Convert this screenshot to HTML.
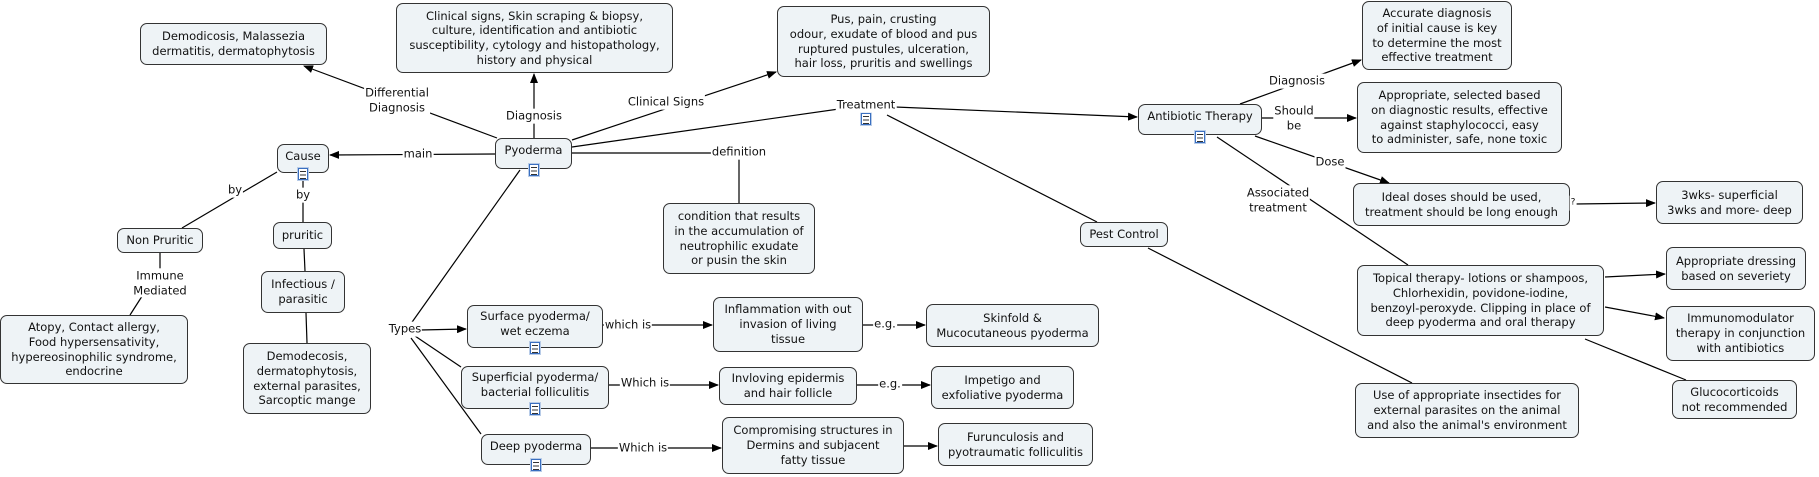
<!DOCTYPE html>
<html><head><meta charset="utf-8"><style>
body{margin:0;width:1819px;height:477px;background:#fff;position:relative;overflow:hidden;font-family:"DejaVu Sans","Liberation Sans",sans-serif;font-size:11.5px;color:#111}
.b{position:absolute;box-sizing:border-box;border:1px solid #333;border-radius:7px;background:#eef3f6;display:flex;align-items:center;justify-content:center;text-align:center;line-height:14.7px;padding:0 2px}
.l{position:absolute;background:#fff;text-align:center;line-height:14.7px;transform:translate(-50%,-50%);white-space:nowrap;padding:0 1px}
.i{position:absolute;width:10px;height:12px;box-sizing:border-box;border:1px solid #3a6fc0;background:#fff;box-shadow:0 0 0 1px #b8cce8}
.i:after{content:"";position:absolute;left:1px;top:2px;width:6px;height:6px;border-top:1px solid #333;border-bottom:1px solid #333;background:linear-gradient(#fff 40%,#333 40%,#333 55%,#fff 55%)}
svg{position:absolute;left:0;top:0}
</style></head><body>
<svg width="1819" height="477">
<defs><marker id="a" markerWidth="10" markerHeight="8" refX="9" refY="4" orient="auto" markerUnits="userSpaceOnUse"><path d="M0,0L10,4L0,8z" fill="#000"/></marker></defs>
<g stroke="#000" stroke-width="1.2" fill="none">
<line x1="497" y1="138" x2="304" y2="66" marker-end="url(#a)"/>
<line x1="534" y1="138" x2="534" y2="74" marker-end="url(#a)"/>
<line x1="572" y1="140" x2="776" y2="72" marker-end="url(#a)"/>
<line x1="572" y1="147" x2="860" y2="106"/>
<line x1="870" y1="106" x2="1137" y2="117" marker-end="url(#a)"/>
<line x1="887" y1="115" x2="1097" y2="222"/>
<line x1="495" y1="154" x2="330" y2="155" marker-end="url(#a)"/>
<line x1="572" y1="153" x2="739" y2="153"/>
<line x1="739" y1="153" x2="739" y2="203"/>
<line x1="277" y1="172" x2="182" y2="228"/>
<line x1="303" y1="174" x2="303" y2="222"/>
<line x1="304" y1="249" x2="305" y2="271"/>
<line x1="306" y1="313" x2="307" y2="343"/>
<line x1="160" y1="253" x2="160" y2="280"/>
<line x1="146" y1="290" x2="130" y2="315"/>
<line x1="520" y1="170" x2="410" y2="325"/>
<line x1="420" y1="330" x2="466" y2="329" marker-end="url(#a)"/>
<line x1="415" y1="336" x2="461" y2="367"/>
<line x1="411" y1="338" x2="481" y2="434"/>
<line x1="603" y1="325" x2="712" y2="325" marker-end="url(#a)"/>
<line x1="609" y1="385" x2="718" y2="385" marker-end="url(#a)"/>
<line x1="591" y1="448" x2="721" y2="448" marker-end="url(#a)"/>
<line x1="863" y1="325" x2="925" y2="325" marker-end="url(#a)"/>
<line x1="857" y1="385" x2="930" y2="385" marker-end="url(#a)"/>
<line x1="904" y1="446" x2="937" y2="446" marker-end="url(#a)"/>
<line x1="1240" y1="104" x2="1361" y2="60" marker-end="url(#a)"/>
<line x1="1262" y1="118" x2="1356" y2="118" marker-end="url(#a)"/>
<line x1="1255" y1="136" x2="1389" y2="183" marker-end="url(#a)"/>
<line x1="1217" y1="137" x2="1408" y2="265"/>
<line x1="1575" y1="204" x2="1655" y2="203" marker-end="url(#a)"/>
<line x1="1605" y1="277" x2="1665" y2="274" marker-end="url(#a)"/>
<line x1="1605" y1="307" x2="1664" y2="318" marker-end="url(#a)"/>
<line x1="1585" y1="339" x2="1686" y2="380"/>
<line x1="1148" y1="248" x2="1412" y2="383"/>
</g></svg>

<div class="b" style="left:140px;top:23px;width:187px;height:42px">Demodicosis, Malassezia<br>dermatitis, dermatophytosis</div>
<div class="b" style="left:396px;top:3px;width:277px;height:70px">Clinical signs, Skin scraping &amp; biopsy,<br>culture, identification and antibiotic<br>susceptibility, cytology and histopathology,<br>history and physical</div>
<div class="b" style="left:777px;top:6px;width:213px;height:71px">Pus, pain, crusting<br>odour, exudate of blood and pus<br>ruptured pustules, ulceration,<br>hair loss, pruritis and swellings</div>
<div class="b" style="left:495px;top:138px;width:77px;height:31px;align-items:flex-start;padding-top:4px">Pyoderma</div>
<div class="b" style="left:277px;top:144px;width:52px;height:29px;align-items:flex-start;padding-top:4px">Cause</div>
<div class="b" style="left:117px;top:228px;width:86px;height:25px">Non Pruritic</div>
<div class="b" style="left:273px;top:222px;width:59px;height:27px">pruritic</div>
<div class="b" style="left:261px;top:271px;width:84px;height:42px">Infectious /<br>parasitic</div>
<div class="b" style="left:0px;top:315px;width:188px;height:69px">Atopy, Contact allergy,<br>Food hypersensativity,<br>hypereosinophilic syndrome,<br>endocrine</div>
<div class="b" style="left:243px;top:343px;width:128px;height:71px">Demodecosis,<br>dermatophytosis,<br>external parasites,<br>Sarcoptic mange</div>
<div class="b" style="left:663px;top:203px;width:152px;height:71px">condition that results<br>in the accumulation of<br>neutrophilic exudate<br>or pusin the skin</div>
<div class="b" style="left:467px;top:305px;width:136px;height:43px;align-items:flex-start;padding-top:3px">Surface pyoderma/<br>wet eczema</div>
<div class="b" style="left:461px;top:366px;width:148px;height:43px;align-items:flex-start;padding-top:3px">Superficial pyoderma/<br>bacterial folliculitis</div>
<div class="b" style="left:481px;top:434px;width:110px;height:31px;align-items:flex-start;padding-top:4px">Deep pyoderma</div>
<div class="b" style="left:713px;top:297px;width:150px;height:55px">Inflammation with out<br>invasion of living<br>tissue</div>
<div class="b" style="left:719px;top:367px;width:138px;height:38px">Invloving epidermis<br>and hair follicle</div>
<div class="b" style="left:722px;top:417px;width:182px;height:57px">Compromising structures in<br>Dermins and subjacent<br>fatty tissue</div>
<div class="b" style="left:926px;top:304px;width:173px;height:43px">Skinfold &amp;<br>Mucocutaneous pyoderma</div>
<div class="b" style="left:931px;top:366px;width:143px;height:43px">Impetigo and<br>exfoliative pyoderma</div>
<div class="b" style="left:938px;top:423px;width:155px;height:43px">Furunculosis and<br>pyotraumatic folliculitis</div>
<div class="b" style="left:1138px;top:104px;width:124px;height:31px;align-items:flex-start;padding-top:4px">Antibiotic Therapy</div>
<div class="b" style="left:1362px;top:1px;width:150px;height:69px">Accurate diagnosis<br>of initial cause is key<br>to determine the most<br>effective treatment</div>
<div class="b" style="left:1357px;top:82px;width:205px;height:71px">Appropriate, selected based<br>on diagnostic results, effective<br>against staphylococci, easy<br>to administer, safe, none toxic</div>
<div class="b" style="left:1353px;top:183px;width:217px;height:43px">Ideal doses should be used,<br>treatment should be long enough</div>
<div class="b" style="left:1656px;top:181px;width:147px;height:43px">3wks- superficial<br>3wks and more- deep</div>
<div class="b" style="left:1080px;top:222px;width:88px;height:25px">Pest Control</div>
<div class="b" style="left:1357px;top:265px;width:247px;height:71px">Topical therapy- lotions or shampoos,<br>Chlorhexidin, povidone-iodine,<br>benzoyl-peroxyde. Clipping in place of<br>deep pyoderma and oral therapy</div>
<div class="b" style="left:1666px;top:247px;width:140px;height:43px">Appropriate dressing<br>based on severiety</div>
<div class="b" style="left:1666px;top:306px;width:149px;height:55px">Immunomodulator<br>therapy in conjunction<br>with antibiotics</div>
<div class="b" style="left:1672px;top:380px;width:125px;height:39px">Glucocorticoids<br>not recommended</div>
<div class="b" style="left:1355px;top:383px;width:224px;height:55px">Use of appropriate insectides for<br>external parasites on the animal<br>and also the animal's environment</div>

<div class="i" style="left:529px;top:164px"></div>
<div class="i" style="left:298px;top:168px"></div>
<div class="i" style="left:530px;top:342px"></div>
<div class="i" style="left:530px;top:403px"></div>
<div class="i" style="left:531px;top:459px"></div>
<div class="i" style="left:1195px;top:131px"></div>
<div class="i" style="left:861px;top:113px"></div>

<div class="l" style="left:397px;top:100px">Differential<br>Diagnosis</div>
<div class="l" style="left:534px;top:116px">Diagnosis</div>
<div class="l" style="left:666px;top:102px">Clinical Signs</div>
<div class="l" style="left:866px;top:105px">Treatment</div>
<div class="l" style="left:418px;top:154px">main</div>
<div class="l" style="left:739px;top:152px">definition</div>
<div class="l" style="left:235px;top:190px">by</div>
<div class="l" style="left:303px;top:195px">by</div>
<div class="l" style="left:160px;top:283px">Immune<br>Mediated</div>
<div class="l" style="left:405px;top:329px">Types</div>
<div class="l" style="left:628px;top:325px">which is</div>
<div class="l" style="left:645px;top:383px">Which is</div>
<div class="l" style="left:643px;top:448px">Which is</div>
<div class="l" style="left:885px;top:324px">e.g.</div>
<div class="l" style="left:890px;top:384px">e.g.</div>
<div class="l" style="left:1297px;top:81px">Diagnosis</div>
<div class="l" style="left:1294px;top:118px">Should<br>be</div>
<div class="l" style="left:1330px;top:162px">Dose</div>
<div class="l" style="left:1278px;top:200px">Associated<br>treatment</div>
<div class="l" style="left:1573px;top:203px;font-size:9px">?</div>
</body></html>
